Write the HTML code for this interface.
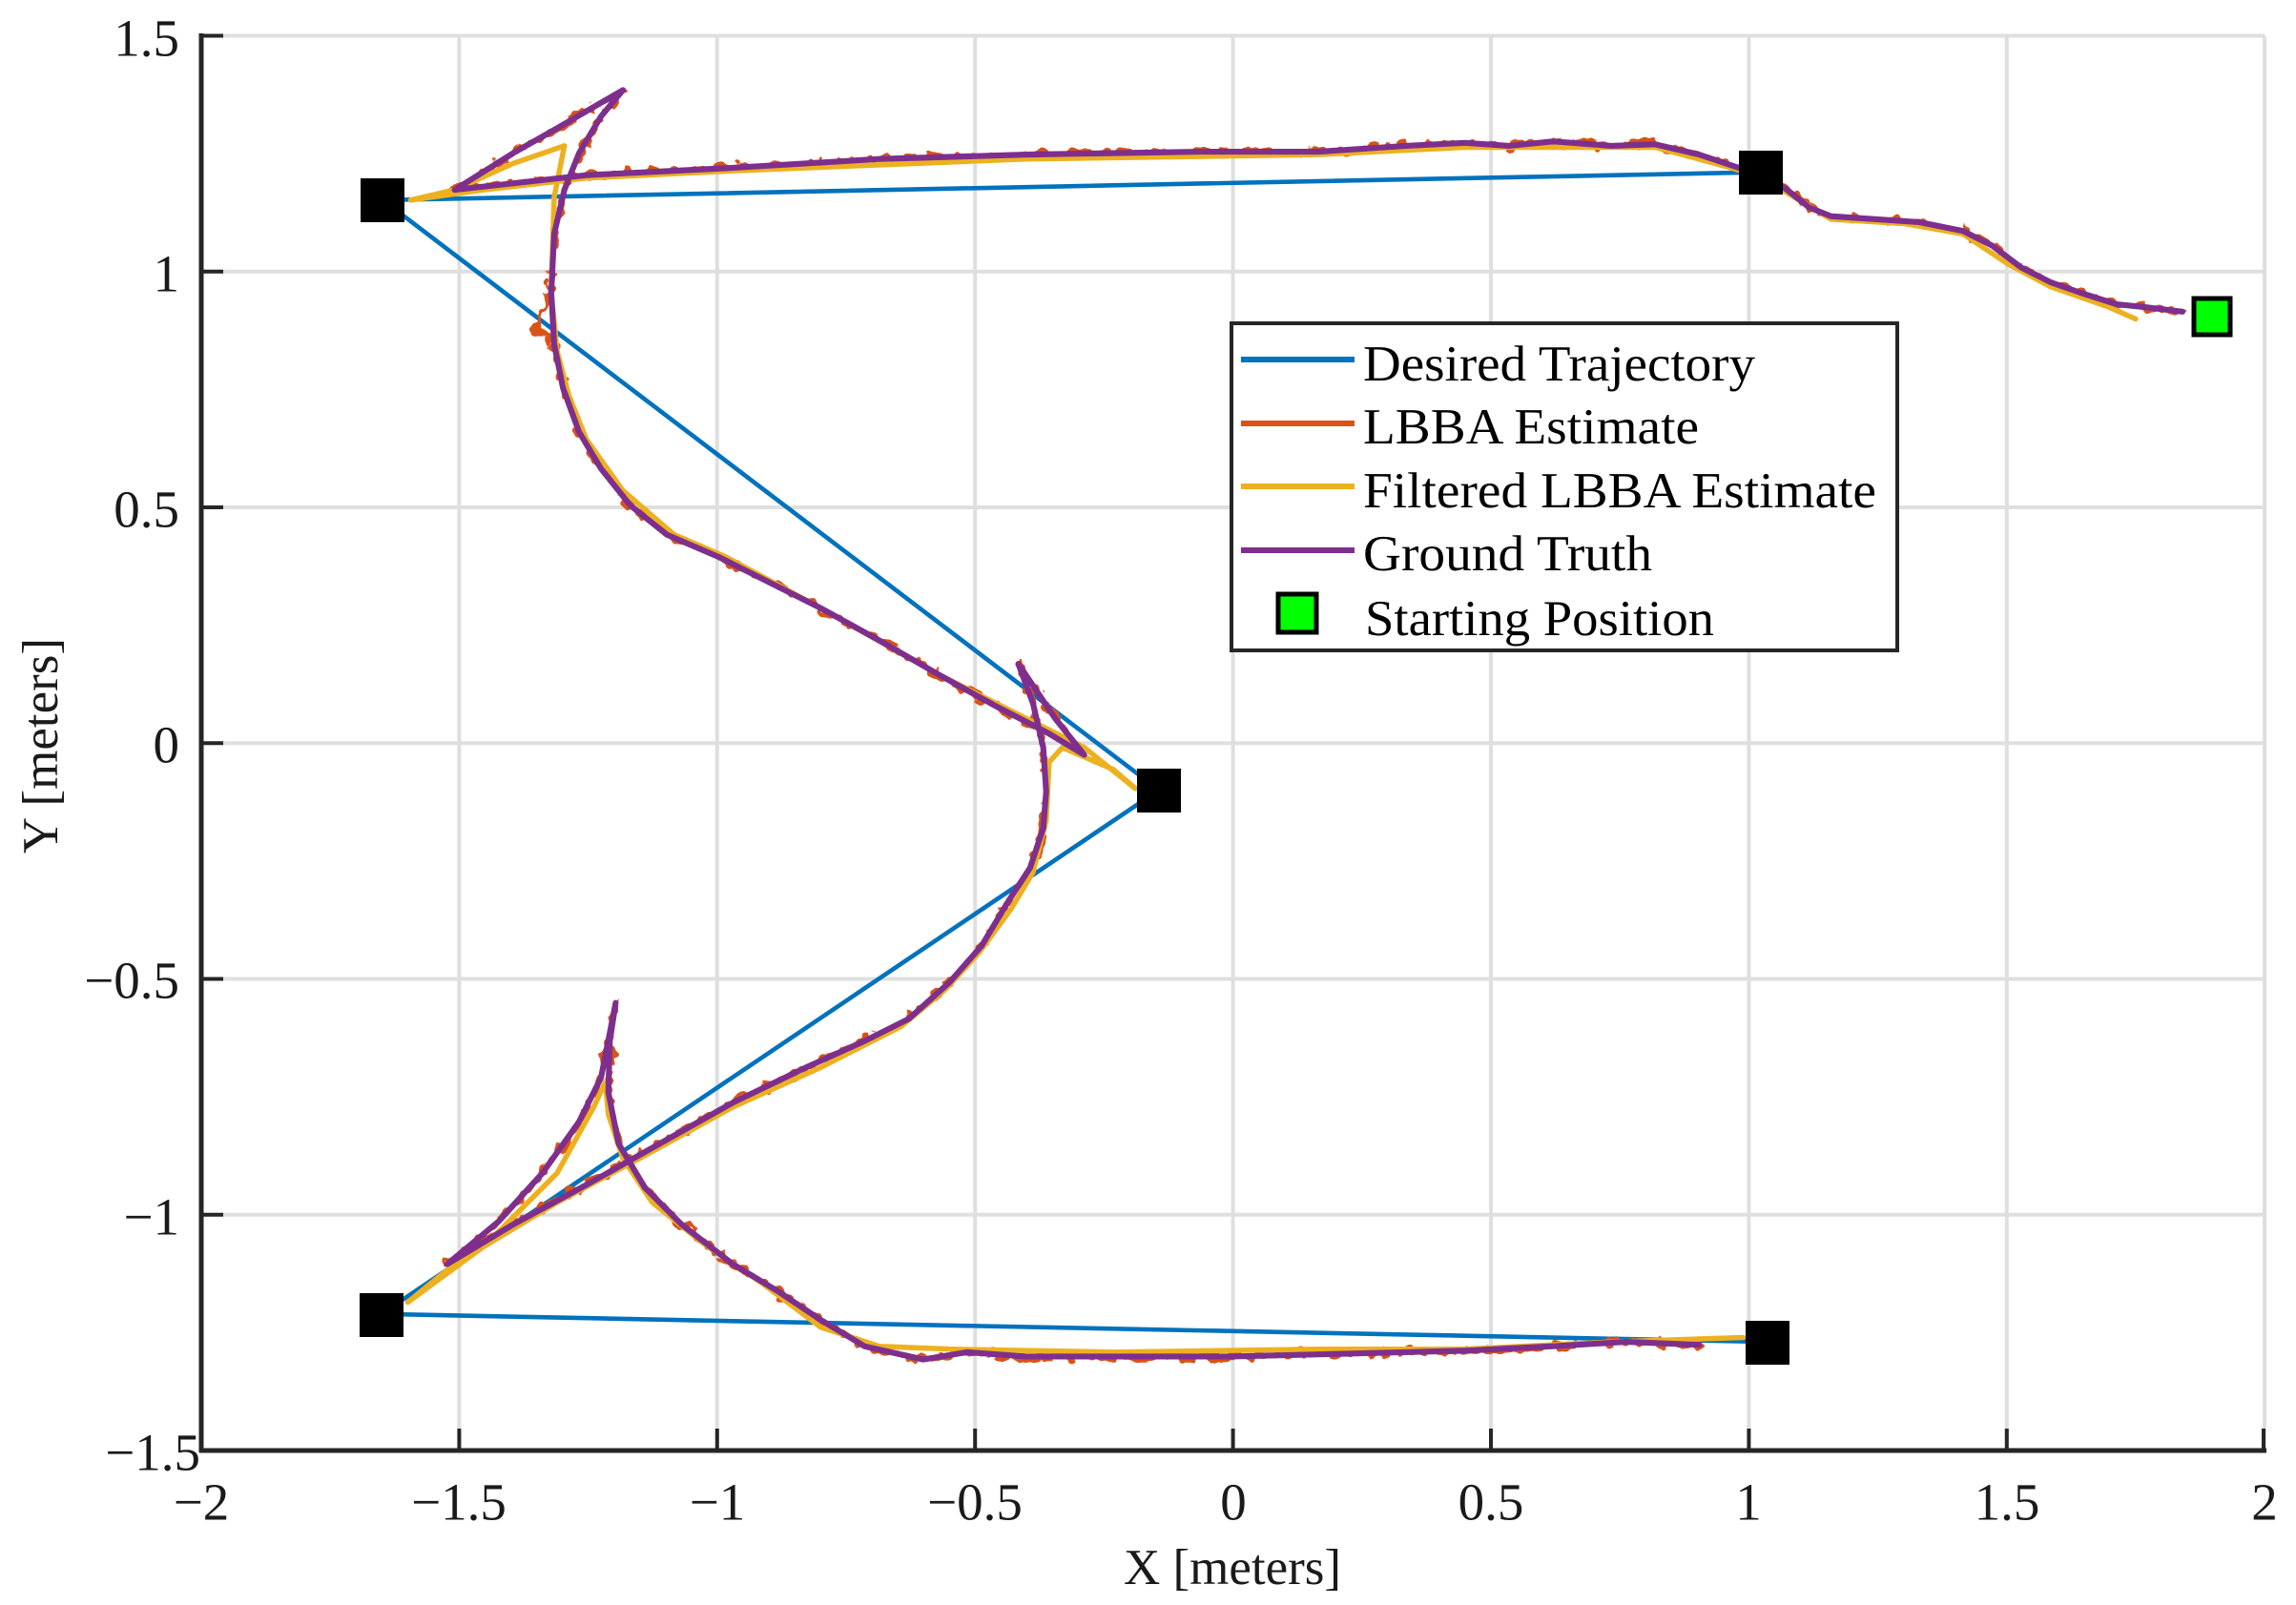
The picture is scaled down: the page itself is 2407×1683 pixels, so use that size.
<!DOCTYPE html>
<html><head><meta charset="utf-8"><style>html,body{margin:0;padding:0;background:#fff}svg{display:block}</style></head>
<body>
<svg width="2407" height="1683" viewBox="0 0 2407 1683" xmlns="http://www.w3.org/2000/svg" font-family="Liberation Serif, serif">
<defs>
<filter id="jit" x="-5%" y="-5%" width="110%" height="110%">
<feTurbulence type="fractalNoise" baseFrequency="0.12" numOctaves="2" seed="3" result="n"/>
<feDisplacementMap in="SourceGraphic" in2="n" scale="12" xChannelSelector="R" yChannelSelector="G"/>
</filter>
</defs>
<rect width="2407" height="1683" fill="#fff"/>
<g stroke="#dfdfdf" stroke-width="4">
<line x1="481.4" y1="37.5" x2="481.4" y2="1521"/>
<line x1="751.8" y1="37.5" x2="751.8" y2="1521"/>
<line x1="1022.2" y1="37.5" x2="1022.2" y2="1521"/>
<line x1="1292.6" y1="37.5" x2="1292.6" y2="1521"/>
<line x1="1563" y1="37.5" x2="1563" y2="1521"/>
<line x1="1833.4" y1="37.5" x2="1833.4" y2="1521"/>
<line x1="2103.8" y1="37.5" x2="2103.8" y2="1521"/>
<line x1="2374" y1="37.5" x2="2374" y2="1521"/>
<line x1="211" y1="37.5" x2="2374" y2="37.5"/>
<line x1="211" y1="284.75" x2="2374" y2="284.75"/>
<line x1="211" y1="532" x2="2374" y2="532"/>
<line x1="211" y1="779.25" x2="2374" y2="779.25"/>
<line x1="211" y1="1026.5" x2="2374" y2="1026.5"/>
<line x1="211" y1="1273.75" x2="2374" y2="1273.75"/>
</g>
<g transform="matrix(1.5351,0,0,1.5389,0.69,-1.0)" fill="none" stroke-linejoin="round" stroke-linecap="round">
<g stroke="#0072BD" stroke-width="3">
<path d="M261,137 L1202,118 M261,137 L791,539 L260,896 L1207,915"/>
</g>
<path filter="url(#jit)" stroke="#D95319" stroke-width="3.6" d="M1490,213 L1465,210 L1445,208 L1420,200 L1400,193 L1380,183 L1360,168 L1340,158 L1310,152 L1280,150 L1250,148 L1235,142 L1220,130 L1205,120 L1190,116 L1160,106 L1130,99 L1100,100 L1060,97 L1030,100 L1000,98 L960,100 L900,104 L820,104 L700,106 L600,109 L500,115 L400,120 L310,130 L350,105 L380,88 L425,62 L410,80 L395,105 L385,130 L378,160 L376,200 L365,225 L378,235 L384,265 L395,295 L410,320 L430,345 L455,365 L490,380 L520,395 L560,415 L600,437 L640,460 L680,482 L715,500 L740,515 L720,490 L695,453 L705,480 L712,510 L714,540 L712,565 L703,592 L688,615 L670,645 L648,670 L620,695 L590,710 L550,728 L500,752 L450,780 L400,808 L350,835 L305,862 L340,833 L370,800 L395,765 L410,735 L420,684 L416,710 L415,745 L422,780 L440,810 L465,835 L500,862 L530,880 L560,900 L590,918 L630,927 L660,922 L700,925 L760,925 L840,925 L920,923 L1000,921 L1060,918 L1110,915 L1160,917"/>
<path stroke="#EDB120" stroke-width="3.6" d="M1458,218 L1440,210 L1400,196 L1370,180 L1340,160 L1300,153 L1250,150 L1225,135 L1200,120 L1130,101 L1000,101 L900,106 L700,109 L500,117 L400,122 L330,130 L280,137 L310,130 L350,112 L385,100 L378,135 L376,200 L380,240 L388,270 L400,300 L425,335 L460,365 L495,380 L560,415 L640,460 L700,490 L740,510 L775,538 L760,525 L725,510 L716,520 L714,560 L705,595 L690,620 L668,650 L645,675 L615,700 L560,728 L500,755 L440,788 L380,820 L330,850 L278,888 L300,870 L340,840 L380,800 L405,755 L413,738 L415,760 L425,790 L445,820 L480,848 L520,875 L560,905 L600,918 L650,920 L760,922 L900,920 L1000,920 L1100,915 L1160,913 L1190,912"/>
<path stroke="#7E2F8E" stroke-width="4" d="M1490,213 L1465,210 L1445,208 L1420,200 L1400,193 L1380,183 L1360,168 L1340,158 L1310,152 L1280,150 L1250,148 L1235,142 L1220,130 L1205,120 L1190,116 L1160,106 L1130,99 L1100,100 L1060,97 L1030,100 L1000,98 L960,100 L900,104 L820,104 L700,106 L600,109 L500,115 L400,120 L310,130 L350,105 L380,88 L425,62 L410,80 L395,105 L385,130 L378,160 L376,200 L378,235 L384,265 L395,295 L410,320 L430,345 L455,365 L490,380 L520,395 L560,415 L600,437 L640,460 L680,482 L715,500 L740,515 L720,490 L695,453 L705,480 L712,510 L714,540 L712,565 L703,592 L688,615 L670,645 L648,670 L620,695 L590,710 L550,728 L500,752 L450,780 L400,808 L350,835 L305,862 L340,833 L370,800 L395,765 L410,735 L420,684 L416,710 L415,745 L422,780 L440,810 L465,835 L500,862 L530,880 L560,900 L590,918 L630,927 L660,922 L700,925 L760,925 L840,925 L920,923 L1000,921 L1060,918 L1110,915 L1160,917"/>
</g>
<g fill="#000">
<rect x="378" y="187" width="46" height="46"/>
<rect x="1823" y="158" width="46" height="46"/>
<rect x="1192" y="806" width="46" height="46"/>
<rect x="377" y="1356" width="46" height="46"/>
<rect x="1830" y="1385" width="46" height="46"/>
</g>
<rect x="2300" y="313" width="38" height="38" fill="#00ff00" stroke="#000" stroke-width="5"/>
<g stroke="#262626" stroke-width="5" fill="none">
<line x1="211" y1="35" x2="211" y2="1523"/>
<line x1="209" y1="1521" x2="2376" y2="1521"/>
</g>
<g stroke="#262626" stroke-width="4">
<line x1="211" y1="37.5" x2="234" y2="37.5"/>
<line x1="211" y1="284.75" x2="234" y2="284.75"/>
<line x1="211" y1="532" x2="234" y2="532"/>
<line x1="211" y1="779.25" x2="234" y2="779.25"/>
<line x1="211" y1="1026.5" x2="234" y2="1026.5"/>
<line x1="211" y1="1273.75" x2="234" y2="1273.75"/>
<line x1="481.4" y1="1521" x2="481.4" y2="1498"/>
<line x1="751.8" y1="1521" x2="751.8" y2="1498"/>
<line x1="1022.2" y1="1521" x2="1022.2" y2="1498"/>
<line x1="1292.6" y1="1521" x2="1292.6" y2="1498"/>
<line x1="1563" y1="1521" x2="1563" y2="1498"/>
<line x1="1833.4" y1="1521" x2="1833.4" y2="1498"/>
<line x1="2103.8" y1="1521" x2="2103.8" y2="1498"/>
<line x1="2373" y1="1521" x2="2373" y2="1498"/>
</g>
<g font-size="55" fill="#1a1a1a" text-anchor="end" dominant-baseline="central">
<text x="188" y="40">1.5</text>
<text x="188" y="287">1</text>
<text x="188" y="534">0.5</text>
<text x="188" y="781">0</text>
<text x="188" y="1028">−0.5</text>
<text x="188" y="1276">−1</text>
<text x="210" y="1523">−1.5</text>
</g>
<g font-size="55" fill="#1a1a1a" text-anchor="middle" dominant-baseline="central">
<text x="211" y="1575">−2</text>
<text x="481" y="1575">−1.5</text>
<text x="752" y="1575">−1</text>
<text x="1022" y="1575">−0.5</text>
<text x="1293" y="1575">0</text>
<text x="1563" y="1575">0.5</text>
<text x="1833" y="1575">1</text>
<text x="2104" y="1575">1.5</text>
<text x="2374" y="1575">2</text>
</g>
<text x="1292" y="1644" font-size="53" fill="#1a1a1a" text-anchor="middle" dominant-baseline="central">X [meters]</text>
<text transform="translate(43,782) rotate(-90)" font-size="53" fill="#1a1a1a" text-anchor="middle" dominant-baseline="central">Y [meters]</text>
<rect x="1291" y="339" width="698" height="343" fill="#fff" stroke="#262626" stroke-width="4"/>
<g stroke-width="6">
<line x1="1301" y1="377" x2="1420" y2="377" stroke="#0072BD"/>
<line x1="1301" y1="444" x2="1420" y2="444" stroke="#D95319"/>
<line x1="1301" y1="510" x2="1420" y2="510" stroke="#EDB120"/>
<line x1="1301" y1="577" x2="1420" y2="577" stroke="#7E2F8E"/>
</g>
<rect x="1340" y="623" width="40" height="40" fill="#00ff00" stroke="#000" stroke-width="5"/>
<g font-size="53" fill="#000" dominant-baseline="central">
<text x="1429" y="382" textLength="411" lengthAdjust="spacingAndGlyphs">Desired Trajectory</text>
<text x="1429" y="448" textLength="352" lengthAdjust="spacingAndGlyphs">LBBA Estimate</text>
<text x="1429" y="515" textLength="538" lengthAdjust="spacingAndGlyphs">Filtered LBBA Estimate</text>
<text x="1429" y="581" textLength="303" lengthAdjust="spacingAndGlyphs">Ground Truth</text>
<text x="1431" y="649" textLength="366" lengthAdjust="spacingAndGlyphs">Starting Position</text>
</g>
</svg>
</body></html>
